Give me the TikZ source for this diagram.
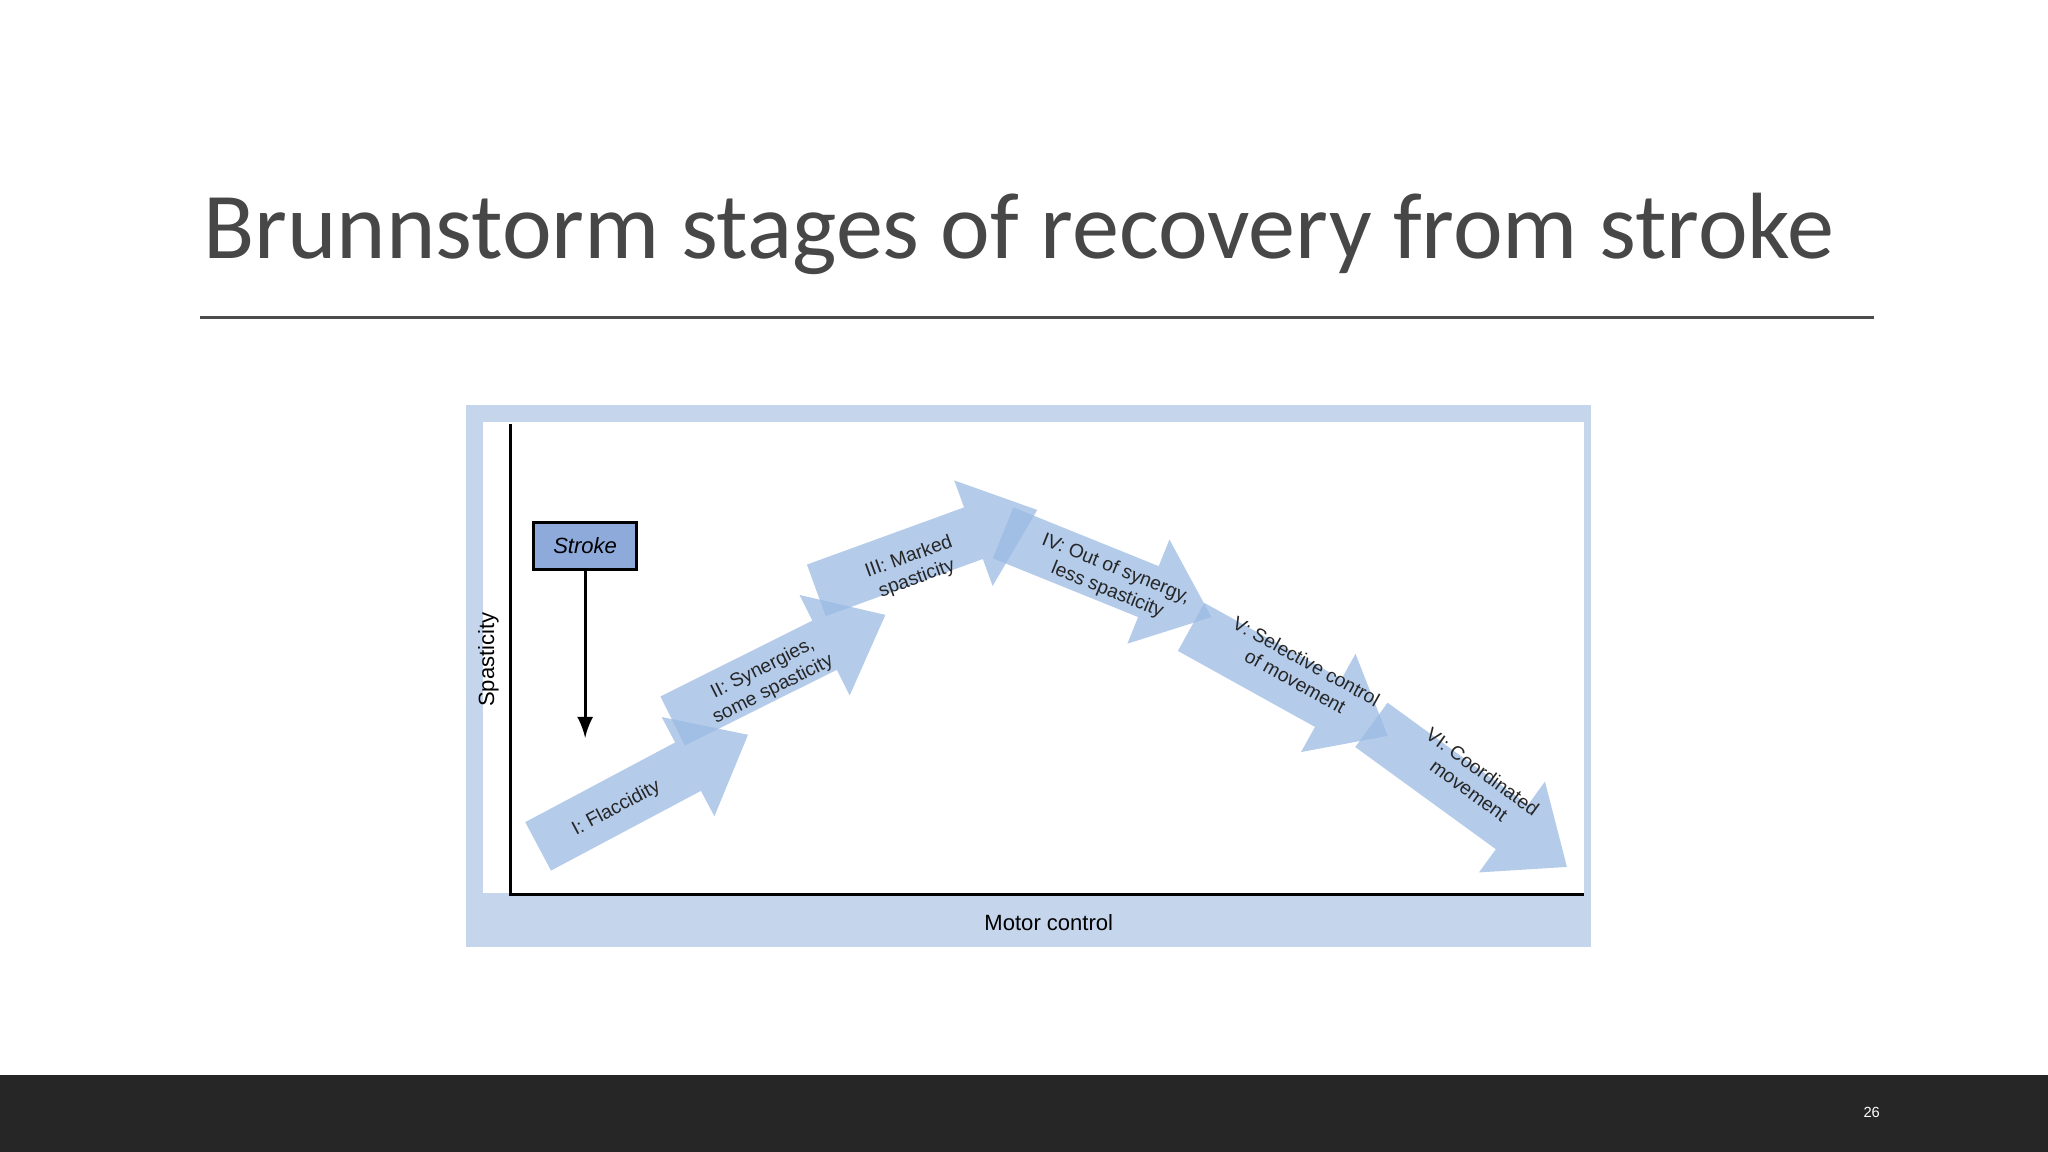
\documentclass[tikz,border=0pt]{standalone}
\usepackage{fontspec}
\setmainfont{Liberation Sans}
\newfontfamily\titlefont{Carlito}
\definecolor{panel}{HTML}{C5D5EC}
\definecolor{arrfill}{HTML}{9BBAE4}
\definecolor{strokebox}{HTML}{8EAADB}
\tikzset{
  arr/.style={fill=arrfill, fill opacity=0.75, draw=none},
  lbl/.style={font=\fontsize{4.2pt}{5pt}\selectfont, align=center, text=black!85}
}
\newcommand{\bigarrow}[4]{% name, tail, angle, length
  \begin{scope}[shift={(#2)}, rotate=#3]
    \coordinate (#1) at (0,0);
    \fill[arr] (0,-21) -- (#4-52,-21) -- (#4-52,-43) -- (#4,0) -- (#4-52,43) -- (#4-52,21) -- (0,21) -- cycle;
  \end{scope}}
\begin{document}
\begin{tikzpicture}[x=0.01cm,y=-0.01cm]
\useasboundingbox (0,0) rectangle (1568,882);
\fill[white] (0,0) rectangle (1568,882);
\node[anchor=base west, inner sep=0, text=black!72, font=\titlefont\fontsize{20.5pt}{24pt}\selectfont] (title) at (155,198) {Brunnstorm stages of recovery from stroke};
\draw[black!70, line width=0.5pt] (153,243) coordinate (l1) -- (1435,243) coordinate (l2);
\fill[black!85!white] (0,823) rectangle (1568,882);
\node[text=white, font=\fontsize{3.2pt}{4pt}\selectfont] (pg) at (1433,852) {26};
% panel
\fill[panel] (357,310) rectangle (1218,725);
\fill[white] (370,323) rectangle (1213,684);
\draw[black, line width=0.6pt] (391,325) coordinate (ya) -- (391,685) coordinate (o) -- (1213,685) coordinate (xa);
\node[rotate=90, font=\fontsize{4.8pt}{5pt}\selectfont] (ylab) at (374,505) {Spasticity};
\node[font=\fontsize{4.8pt}{5pt}\selectfont] (xlab) at (803,706) {Motor control};
\node[draw=black, fill=strokebox, line width=0.6pt, minimum width=0.79cm, minimum height=0.34cm, font=\itshape\fontsize{4.8pt}{5pt}\selectfont] (stroke) at (448,418) {Stroke};
\draw[-latex, line width=0.6pt] (stroke.south) -- (448,565) coordinate (st);
% arrows
\bigarrow{a1}{412,648}{28}{182}
\bigarrow{a2}{515,552}{26.5}{182}
\bigarrow{a3}{625,452}{20}{180}
\bigarrow{a4}{768,408}{-22}{172}
\bigarrow{a5}{912,480}{-29}{172}
\bigarrow{a6}{1050,555}{-36}{185}
\node[lbl, rotate=28] (t1) at (472,619) {I: Flaccidity};
\node[lbl, rotate=26.5] (t2) at (588,520) {II: Synergies,\\some spasticity};
\node[lbl, rotate=20] (t3) at (699,435) {III: Marked\\spasticity};
\node[lbl, rotate=-22] (t4) at (851,444) {IV: Out of synergy,\\less spasticity};
\node[lbl, rotate=-29] (t5) at (996,514) {V: Selective control\\of movement};
\node[lbl, rotate=-36] (t6) at (1130,598) {VI: Coordinated\\movement};
\end{tikzpicture}
\end{document}
